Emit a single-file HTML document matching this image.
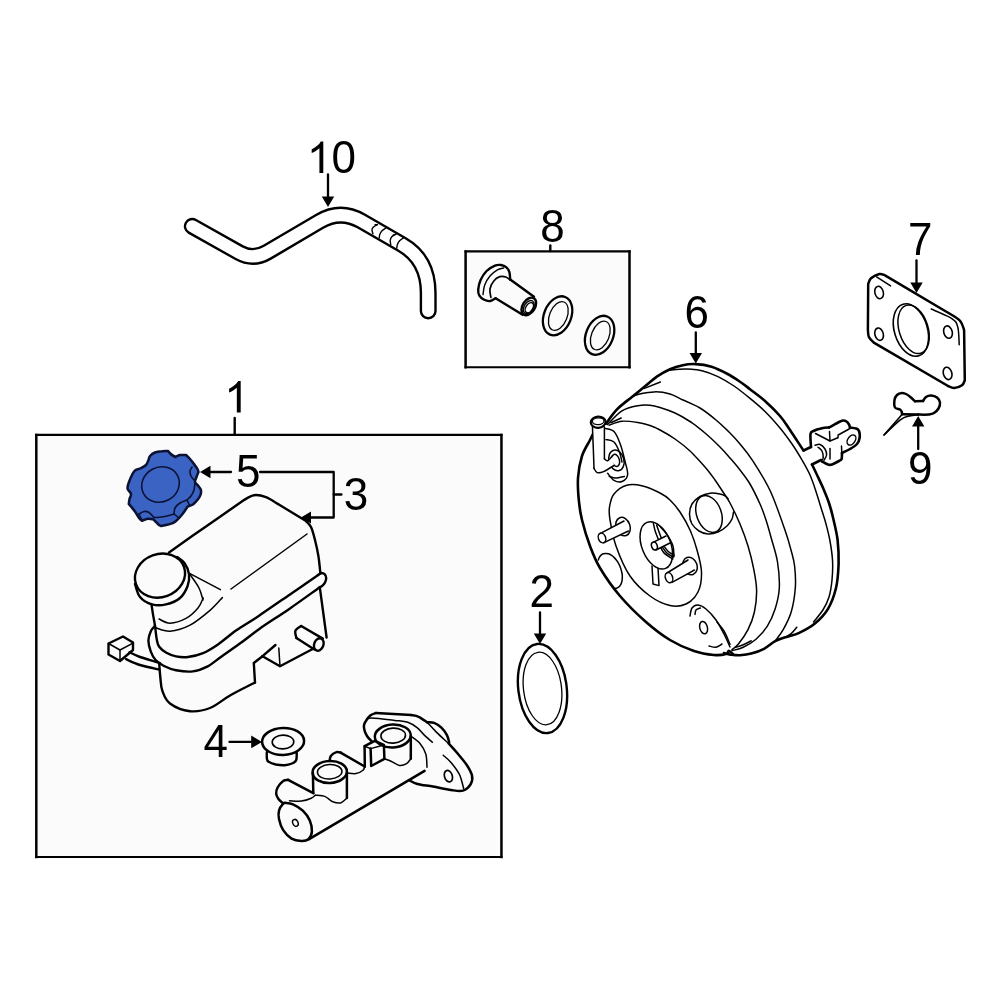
<!DOCTYPE html>
<html><head><meta charset="utf-8"><title>Diagram</title>
<style>html,body{margin:0;padding:0;background:#fff}svg{display:block}text{will-change:transform}</style></head>
<body><svg width="1000" height="1000" viewBox="0 0 1000 1000" style="font-family:'Liberation Sans',sans-serif" stroke-linecap="round" stroke-linejoin="round">
<rect width="1000" height="1000" fill="#fff"/>
<rect x="36.3" y="434.9" width="465.15" height="422.1" fill="#fbfbfb"/>
<path d="M36.3,434.9 V857 M501.45,434.9 V857" stroke="#000" stroke-width="2.5" stroke-linecap="square" fill="none"/>
<path d="M36.3,434.9 H501.45 M36.3,857 H501.45" stroke="#000" stroke-width="2.1" stroke-linecap="square" fill="none"/>
<rect x="465.6" y="251.4" width="163.89999999999998" height="115.79999999999998" fill="#fbfbfb"/>
<path d="M465.6,251.4 V367.2 M629.5,251.4 V367.2" stroke="#000" stroke-width="2.5" stroke-linecap="square" fill="none"/>
<path d="M465.6,251.4 H629.5 M465.6,367.2 H629.5" stroke="#000" stroke-width="2.1" stroke-linecap="square" fill="none"/>
<path transform="translate(306.9,173) scale(0.02148,0.02148)" d="M763 0H583V-1147Q518 -1085 412.5 -1023Q307 -961 223 -930V-1104Q374 -1175 487 -1276Q600 -1377 647 -1472H763Z" fill="#000"/>
<text transform="translate(331.4,173) scale(1,1.035)" font-size="44" text-anchor="start">0</text>
<text transform="translate(540.3,241.8) scale(1,1.035)" font-size="44" text-anchor="start">8</text>
<text transform="translate(684.4,327.6) scale(1,1.035)" font-size="44" text-anchor="start">6</text>
<text transform="translate(908.1,254.5) scale(1,1.035)" font-size="44" text-anchor="start">7</text>
<text transform="translate(908.1,484) scale(1,1.035)" font-size="44" text-anchor="start">9</text>
<path transform="translate(224.3,412.5) scale(0.02148,0.02148)" d="M763 0H583V-1147Q518 -1085 412.5 -1023Q307 -961 223 -930V-1104Q374 -1175 487 -1276Q600 -1377 647 -1472H763Z" fill="#000"/>
<text transform="translate(236.1,486.5) scale(1,1.035)" font-size="44" text-anchor="start">5</text>
<text transform="translate(343.8,510) scale(1,1.035)" font-size="44" text-anchor="start">3</text>
<text transform="translate(203.6,756.5) scale(1,1.035)" font-size="44" text-anchor="start">4</text>
<text transform="translate(529.6,606.5) scale(1,1.035)" font-size="44" text-anchor="start">2</text>
<path d="M234.7,418 L234.7,434" fill="none" stroke="#000" stroke-width="2.4" />
<path d="M550.3,245.5 L550.3,251" fill="none" stroke="#000" stroke-width="2.4" />
<path d="M328,174.5 L328,196.5" fill="none" stroke="#000" stroke-width="2.3" />
<path d="M328,207 L321.8,196.5 L334.2,196.5Z" fill="#000" stroke="none" stroke-width="0" />
<path d="M695.8,332.5 L695.8,353.1" fill="none" stroke="#000" stroke-width="2.3" />
<path d="M695.8,363.6 L689.6,353.1 L702,353.1Z" fill="#000" stroke="none" stroke-width="0" />
<path d="M916.5,260.5 L916.5,282.5" fill="none" stroke="#000" stroke-width="2.3" />
<path d="M916.5,293 L910.3,282.5 L922.7,282.5Z" fill="#000" stroke="none" stroke-width="0" />
<path d="M918.2,449 L918.2,426.5" fill="none" stroke="#000" stroke-width="2.3" />
<path d="M918.2,416 L924.4,426.5 L912,426.5Z" fill="#000" stroke="none" stroke-width="0" />
<path d="M540,612.5 L540,633.5" fill="none" stroke="#000" stroke-width="2.3" />
<path d="M540,644 L533.8,633.5 L546.2,633.5Z" fill="#000" stroke="none" stroke-width="0" />
<path d="M231,472 L210.5,472" fill="none" stroke="#000" stroke-width="2.3" />
<path d="M200,472 L210.5,465.8 L210.5,478.2Z" fill="#000" stroke="none" stroke-width="0" />
<path d="M229.5,741.9 L251.2,741.9" fill="none" stroke="#000" stroke-width="2.3" />
<path d="M262,741.9 L251.2,748.2 L251.2,735.6Z" fill="#000" stroke="none" stroke-width="0" />
<path d="M260,472 L333.7,472 L333.7,517.5 L311,517.5" fill="none" stroke="#000" stroke-width="2.3" />
<path d="M301,517.5 L311,511.5 L311,523.5Z" fill="#000" stroke="none" stroke-width="0" />
<path d="M333.7,494.5 L341.5,494.5" fill="none" stroke="#000" stroke-width="2.3" />
<path d="M192.3,226.3 L239.2,252.7 Q253.2,260.4 267.0,252.3 L319.8,221.2 Q340.5,209.0 361.3,221.0 L402.0,244.5 Q428.2,259.5 428.2,293 L428.2,311.0" fill="none" stroke="#000" stroke-width="17" />
<path d="M192.3,226.3 L239.2,252.7 Q253.2,260.4 267.0,252.3 L319.8,221.2 Q340.5,209.0 361.3,221.0 L402.0,244.5 Q428.2,259.5 428.2,293 L428.2,311.0" fill="none" stroke="#fff" stroke-width="12.2" />
<path d="M377.2,224.6 C376.5,225 374.1,226.3 373.2,227.2 C372.3,228.1 372,228.9 372,230 C372,231.1 372.8,233.2 373,233.8" fill="none" stroke="#000" stroke-width="1.4" />
<path d="M385.6,228.2 C385,228.7 382.7,229.9 381.8,231 C380.8,232 380.3,233.2 379.8,234.4 C379.4,235.6 379.3,237.4 379.2,238" fill="none" stroke="#000" stroke-width="1.4" />
<path d="M395.6,234.2 C395,234.6 392.7,235.8 391.8,236.8 C390.9,237.8 390.4,239.1 390.2,240.4 C390.1,241.7 390.7,243.9 390.8,244.6" fill="none" stroke="#000" stroke-width="1.4" />
<path d="M403.6,237.8 C402.9,238.3 400.6,239.7 399.6,240.8 C398.6,241.9 397.9,243.2 397.4,244.4 C397,245.6 396.9,247.6 396.8,248.2" fill="none" stroke="#000" stroke-width="1.4" />
<path d="M375,224.6 L377.6,224.7" fill="none" stroke="#000" stroke-width="1.3" />
<path d="M393.2,234.8 L396,234.3" fill="none" stroke="#000" stroke-width="1.3" />
<ellipse cx="542.5" cy="688.5" rx="24.2" ry="44.8" transform="rotate(-7 542.5 688.5)" fill="none" stroke="#000" stroke-width="2.4"/>
<ellipse cx="542.5" cy="688.5" rx="19" ry="36.5" transform="rotate(-7 542.5 688.5)" fill="none" stroke="#000" stroke-width="1.3"/>
<ellipse cx="557.6" cy="315.8" rx="13.6" ry="20.3" transform="rotate(22 557.6 315.8)" fill="none" stroke="#000" stroke-width="2.3"/>
<ellipse cx="558.3" cy="316" rx="8.8" ry="15.1" transform="rotate(22 558.3 316)" fill="none" stroke="#000" stroke-width="1.3"/>
<ellipse cx="599.6" cy="335.3" rx="13.6" ry="20.3" transform="rotate(22 599.6 335.3)" fill="none" stroke="#000" stroke-width="2.3"/>
<ellipse cx="600.3" cy="335.5" rx="8.8" ry="15.1" transform="rotate(22 600.3 335.5)" fill="none" stroke="#000" stroke-width="1.3"/>
<path d="M128.8,504 C128.9,503.2 129.1,500.7 129.5,499 C129.9,497.3 131.3,495.8 131,494 C130.7,492.2 127.8,490.5 127.5,488.5 C127.2,486.5 128.2,484.2 129,482 C129.8,479.8 131,476.9 132,475 C133,473.1 133.7,471.6 135,470.5 C136.3,469.4 138.2,469.4 140,468.5 C141.8,467.6 144.6,466.4 146,465 C147.4,463.6 147.8,461.5 148.5,460 C149.2,458.5 148.9,457.2 150,456 C151.1,454.8 153,453.3 155,452.5 C157,451.7 159.8,451.4 162,451.2 C164.2,450.9 167,451 168,451 L168,451 C168.5,451.5 169.8,453.1 171,454 C172.2,454.9 173.5,456.3 175,456.5 C176.5,456.7 178.2,455.2 180,455 C181.8,454.8 185,455 186,455 L186,455 C186.7,455.7 188.7,457.5 190,459 C191.3,460.5 192.8,462.3 194,464 C195.2,465.7 196.8,467.7 197.5,469 C198.2,470.3 198.3,471.5 198.5,472 L198.5,472 C198.2,472.8 197.1,475.3 196.5,477 C195.9,478.7 194.8,480.6 195,482 C195.2,483.4 197,484.2 198,485.5 C199,486.8 200.3,488.2 200.8,489.5 C201.3,490.8 201.2,491.8 201,493 C200.8,494.2 200.2,495.7 199.5,497 C198.8,498.3 197.7,499.7 196.5,501 C195.3,502.3 193.8,504 192.5,504.8 C191.2,505.6 189.8,505.7 189,506 C188.2,506.3 187.8,506.7 187.5,506.8 L187.5,506.8 C186.9,507.7 185.2,510.3 184,512 C182.8,513.7 181.3,515.5 180,517 C178.7,518.5 177.2,520 176,521 C174.8,522 173.5,522.7 173,523 L173,523 C172,523.3 169,524.3 167,524.8 C165,525.3 162,525.8 161,526 L161,526 C160.7,525.8 160,525.8 159,525 C158,524.2 156,522 155,521 C154,520 153.3,519.5 153,519.2 L153,519.2 C152.2,519.1 149.5,518.7 148,518.8 C146.5,518.9 145,519.7 144,520 C143,520.3 142.3,520.7 142,520.8 L142,520.8 C141.5,520.3 140.2,519.5 139,518 C137.8,516.5 136.3,513.4 135,511.5 C133.7,509.6 132,507.8 131,506.5 C130,505.2 129.2,504.4 128.8,504Z" fill="#3b63c4" stroke="#0b1233" stroke-width="2.5" />
<ellipse cx="160.5" cy="484.5" rx="19.2" ry="17.3" transform="rotate(-28 160.5 484.5)" fill="none" stroke="#0b1233" stroke-width="1.6"/>
<path d="M192,467 C191.7,467.7 190.2,469.5 190,471 C189.8,472.5 190.2,474.3 191,476 C191.8,477.7 194.3,480.2 195,481" fill="none" stroke="#0b1233" stroke-width="1.6" />
<path d="M195,482 C194.8,483.3 194.7,487.7 194,490 C193.3,492.3 192.2,494.3 191,496 C189.8,497.7 187.7,499.3 187,500" fill="none" stroke="#0b1233" stroke-width="1.6" />
<path d="M187,500 C185.8,500.5 182,501.7 180,503 C178,504.3 176,506.2 175,508 C174,509.8 174.2,513 174,514" fill="none" stroke="#0b1233" stroke-width="1.6" />
<path d="M187,500 L189.5,505.2" fill="none" stroke="#0b1233" stroke-width="1.6" />
<path d="M174,514 L179,518" fill="none" stroke="#0b1233" stroke-width="1.6" />
<path d="M174,514 C172.2,514.5 166.3,516.2 163,516.8 C159.7,517.4 155.5,517.4 154,517.5" fill="none" stroke="#0b1233" stroke-width="1.6" />
<path d="M154,517.5 C153.2,516.7 150.7,513.5 149,512.5 C147.3,511.5 145.7,511.2 144,511.5 C142.3,511.8 139.8,513.6 139,514" fill="none" stroke="#0b1233" stroke-width="1.6" />
<path d="M139,514 L142,520" fill="none" stroke="#0b1233" stroke-width="1.4" />
<path d="M168,451.5 L171,455 L176,458" fill="none" stroke="#0b1233" stroke-width="1.4" />
<path d="M169,552.4 C175.2,548.1 193.5,535.1 206,526.4 C218.5,517.7 237.7,504.4 244,500" fill="none" stroke="#000" stroke-width="2.4" />
<path d="M244,500 C245.7,499.2 250.3,495.7 254,495.2 C257.7,494.7 262,495.7 266,497.2 C270,498.7 276,502.9 278,504" fill="none" stroke="#000" stroke-width="2.4" />
<path d="M278,504 L306,521" fill="none" stroke="#000" stroke-width="2.4" />
<path d="M306,521 C306.8,522 309.5,523.8 311,527 C312.5,530.2 313.8,535.2 315,540 C316.2,544.8 317.5,550.4 318.4,556 C319.3,561.6 320.1,570.7 320.4,573.6" fill="none" stroke="#000" stroke-width="2.4" />
<path d="M318,575 C318.6,574.7 320.4,573.1 321.5,573 C322.6,572.9 323.8,573.4 324.6,574.2 C325.4,575 326.1,576.6 326.2,578 C326.3,579.4 325.6,581.2 325,582.5 C324.4,583.8 323.4,584.8 322.5,585.6 C321.6,586.4 320.2,586.9 319.8,587.2" fill="none" stroke="#000" stroke-width="2.4" />
<path d="M318.2,575 C313.5,578.2 300,587.5 290,594.4 C280,601.3 267,610.4 258,616.4 C249,622.4 242.7,625.9 236,630.6 C229.3,635.3 223.6,640.6 218,644.4 C212.4,648.2 207.4,651.3 202.4,653.4 C197.4,655.5 192.4,656.5 188,657 C183.6,657.5 179.6,657.1 176,656.4 C172.4,655.7 169.2,654.4 166.4,652.8 C163.6,651.2 160.8,649 159.2,646.8 C157.6,644.6 157.5,643.1 156.8,639.6 C156.1,636.1 155.6,629.8 155,625.8 C154.4,621.8 153.8,619.1 153.2,615.6 C152.6,612.1 151.8,606.4 151.5,604.6" fill="none" stroke="#000" stroke-width="2.4" />
<path d="M319.8,587.2 C314.8,590.7 300,601.5 290,608.4 C280,615.3 268,622.8 260,628.4 C252,634 248.4,637.3 242,642 C235.6,646.7 227.4,652.3 221.6,656.4 C215.8,660.5 212,664.1 207.2,666.6 C202.4,669.1 198,670.8 192.8,671.4 C187.6,672 180.8,671.1 176,670.2 C171.2,669.3 167.4,667.7 164,666 C160.6,664.3 157.8,662.4 155.6,660 C153.4,657.6 152,654.8 150.8,651.6 C149.6,648.4 148.4,644.2 148.4,640.8 C148.4,637.4 149.7,633.7 150.8,631.2 C151.9,628.7 154.3,626.7 155,625.8" fill="none" stroke="#000" stroke-width="2.4" />
<path d="M319.8,587.3 L326.6,637.5" fill="none" stroke="#000" stroke-width="2.4" />
<path d="M307,534 L231,589" fill="none" stroke="#000" stroke-width="1.5" />
<path d="M190,573.6 L220.4,589.6" fill="none" stroke="#000" stroke-width="1.5" />
<ellipse cx="160" cy="575.6" rx="25.5" ry="21.5" transform="rotate(-20 160 575.6)" fill="#fbfbfb" stroke="#000" stroke-width="2.4"/>
<path d="M135,584 C135.8,586.2 137.2,593.6 140,597 C142.8,600.4 147.7,603.2 152,604.4 C156.3,605.6 161.3,605.5 166,604.4 C170.7,603.3 176.4,601.1 180,598 C183.6,594.9 186.1,590 187.6,586 C189.1,582 189.5,577.8 189,574 C188.5,570.2 186.4,565.8 184.4,563 C182.4,560.2 178.2,558 177,557" fill="none" stroke="#000" stroke-width="2.4" />
<path d="M189.6,574 C191.2,576.3 196.8,583.7 199,588 C201.2,592.3 202.3,598 203,600" fill="none" stroke="#000" stroke-width="1.5" />
<path d="M159,619 C160.8,619.7 165.5,623.3 170,623.2 C174.5,623.1 181.3,620.9 186,618.4 C190.7,615.9 195.1,611.4 198,608 C200.9,604.6 202.3,599.7 203.2,598" fill="none" stroke="#000" stroke-width="1.5" />
<path d="M155,627.6 C157.5,628.2 164.2,631.6 170,631.2 C175.8,630.8 183.3,628.7 190,625.2 C196.7,621.7 204.6,615 210,610.4 C215.4,605.8 220.3,599.7 222.4,597.6" fill="none" stroke="#000" stroke-width="1.5" />
<path d="M159.2,663.6 C159.4,666 159.9,673.4 160.4,678 C160.9,682.6 160.8,686.8 162.4,691 C164,695.2 165.4,700.1 170,703.5 C174.6,706.9 183.3,710.5 190,711.2 C196.7,712 203.3,710.6 210,708 C216.7,705.4 222.5,699.8 230,695.5 C237.5,691.2 250.8,684.7 255,682.5" fill="none" stroke="#000" stroke-width="2.4" />
<path d="M255,682.5 L253.8,663 L262.5,656.2" fill="none" stroke="#000" stroke-width="2.4" />
<path d="M262.5,656.2 L280,666.2 L321.2,644.5" fill="none" stroke="#000" stroke-width="2.4" />
<path d="M280,666.2 L278.8,648" fill="none" stroke="#000" stroke-width="1.5" />
<path d="M262.5,656.2 L275.5,645" fill="none" stroke="#000" stroke-width="2.4" />
<path d="M301.2,626 L322.8,638.6 L314.4,649.4 L296.4,638Z" fill="#fbfbfb" stroke="none" stroke-width="0" />
<path d="M301.2,626 L322.8,638.6" fill="none" stroke="#000" stroke-width="2.4" />
<path d="M296.4,638 L314.4,649.4" fill="none" stroke="#000" stroke-width="2.4" />
<path d="M301.2,626 C300.2,626.8 296.2,628.8 295.4,630.8 C294.6,632.8 296.2,636.8 296.4,638" fill="none" stroke="#000" stroke-width="2.4" />
<ellipse cx="318.8" cy="644.5" rx="4.6" ry="6.4" transform="rotate(22 318.8 644.5)" fill="#fbfbfb" stroke="#000" stroke-width="2.4"/>
<path d="M108.5,643.5 L123,636.5 L133,642.5 L133,650 L120,661 L108.5,654.5Z" fill="none" stroke="#000" stroke-width="2.4" />
<path d="M108.5,643.5 L120,650 L133,643.2" fill="none" stroke="#000" stroke-width="1.5" />
<path d="M120,650 L120,661" fill="none" stroke="#000" stroke-width="1.5" />
<path d="M129.5,652.2 C131.2,653 135.8,655.5 140,657 C144.2,658.5 151.7,660.5 155,661.5 C158.3,662.5 159.2,662.9 160,663.2" fill="none" stroke="#000" stroke-width="2.4" />
<path d="M126,659.2 C128.3,660.2 134.5,663.3 140,665 C145.5,666.7 155.8,668.8 159,669.5" fill="none" stroke="#000" stroke-width="2.4" />
<path d="M266.8,752.2 C266.8,753.3 266.6,757 266.9,758.6 C267.2,760.2 267.1,760.9 268.6,761.8 C270.1,762.8 273.1,763.9 275.8,764.5 C278.5,765 282.1,765.4 284.8,765.2 C287.5,765 290.2,764.2 292,763.5 C293.8,762.8 294.8,762 295.6,761.1 C296.4,760.2 296.4,759.4 296.6,758 C296.7,756.6 296.7,753.5 296.7,752.6" fill="none" stroke="#000" stroke-width="2.4" />
<ellipse cx="283.1" cy="741.4" rx="21" ry="13.5" transform="rotate(-2 283.1 741.4)" fill="#fbfbfb" stroke="#000" stroke-width="2.5"/>
<ellipse cx="283" cy="742" rx="10.8" ry="6.9" transform="rotate(-2 283 742)" fill="none" stroke="#000" stroke-width="1.6"/>
<path d="M283.2,803.6 C282,804.9 279.7,808 279,810.6 C278.3,813.2 278.3,815.7 279,819 C279.7,822.3 281.1,826.9 283.2,830.2 C285.3,833.5 288.6,836.8 291.6,838.6 C294.6,840.4 298.6,840.9 301.4,841 C304.2,841.1 306.6,840.9 308.4,839.3 C310.1,837.7 311.7,834.8 311.9,831.6 C312.1,828.5 311.3,823.9 309.8,820.4 C308.3,816.9 305.6,813.3 302.8,810.6 C300,807.9 295.8,805.6 293,804.3 C290.2,803 287.6,803 286,802.9 C284.4,802.8 284.4,802.3 283.2,803.6Z" fill="none" stroke="#000" stroke-width="2.5" />
<ellipse cx="295.4" cy="822.9" rx="2.6" ry="3.6" transform="rotate(-25 295.4 822.9)" fill="none" stroke="#000" stroke-width="1.5"/>
<path d="M308.7,839.3 L424.6,770.8" fill="none" stroke="#000" stroke-width="2.5" />
<path d="M283.2,803.6 C282.4,802.8 279.5,800.3 278.3,798.7 C277.1,797.1 276.3,795.7 276.2,793.8 C276.1,791.9 276.4,789.6 277.6,787.5 C278.8,785.4 281.4,782.2 283.2,780.9 C284.9,779.6 287.3,780 288.1,779.8" fill="none" stroke="#000" stroke-width="2.5" />
<path d="M288.1,779.8 L313.3,793.1" fill="none" stroke="#000" stroke-width="2.5" />
<path d="M289.5,800.8 C291.5,800.8 297.8,801.5 301.4,801.1 C305,800.7 308.9,799.3 311.2,798.3 C313.5,797.3 314.7,795.7 315.4,795.2" fill="none" stroke="#000" stroke-width="1.5" />
<ellipse cx="329.7" cy="772" rx="17.2" ry="11" transform="rotate(-3 329.7 772)" fill="none" stroke="#000" stroke-width="2.5"/>
<ellipse cx="329.7" cy="771.8" rx="12.3" ry="7.2" transform="rotate(-3 329.7 771.8)" fill="none" stroke="#000" stroke-width="1.5"/>
<path d="M312.9,772.8 L313.3,793.1" fill="none" stroke="#000" stroke-width="2.5" />
<path d="M346.9,772.8 L346.9,798" fill="none" stroke="#000" stroke-width="2.5" />
<path d="M315.4,795.2 C317,795.4 322.4,795.6 325.2,796.6 C328,797.6 329.6,800.5 332.2,801.5 C334.8,802.5 338.2,803.5 340.6,802.9 C343.1,802.3 345.8,798.8 346.9,798" fill="none" stroke="#000" stroke-width="1.5" />
<path d="M329.7,760.9 C329.9,760.1 329.7,757.5 330.8,756 C331.9,754.5 334.8,752.6 336.4,752.1 C338,751.5 339.9,752.5 340.6,752.6" fill="none" stroke="#000" stroke-width="2.5" />
<path d="M340.6,752.6 L364.7,766.5" fill="none" stroke="#000" stroke-width="2.5" />
<path d="M347.6,773.1 C349,773.2 353.4,774.1 356,773.6 C358.6,773.2 361.6,771.5 363,770.3 C364.4,769.1 364.4,767.1 364.7,766.5" fill="none" stroke="#000" stroke-width="1.5" />
<path d="M364.6,746.2 L374.8,740.8 L383.8,745" fill="none" stroke="#000" stroke-width="2.5" />
<path d="M364.6,746.2 L370.6,748.6 L383.8,745" fill="none" stroke="#000" stroke-width="1.5" />
<path d="M370.6,748.6 L371.2,766 L384.4,758.8" fill="none" stroke="#000" stroke-width="2.5" />
<path d="M364.6,746.2 L364.8,766.7" fill="none" stroke="#000" stroke-width="2.5" />
<ellipse cx="392.8" cy="736" rx="18" ry="11.4" transform="rotate(-3 392.8 736)" fill="none" stroke="#000" stroke-width="2.5"/>
<ellipse cx="393.2" cy="735.6" rx="12.3" ry="7.5" transform="rotate(-3 393.2 735.6)" fill="none" stroke="#000" stroke-width="1.6"/>
<path d="M410.8,736 L410.8,758.8" fill="none" stroke="#000" stroke-width="2.5" />
<path d="M383.9,745.2 L384.4,758.8" fill="none" stroke="#000" stroke-width="2.5" />
<path d="M384.4,758.8 C385.5,759.2 388.5,760.1 391,761.2 C393.5,762.3 396.8,765 399.4,765.4 C402,765.8 404.7,764.7 406.6,763.6 C408.5,762.5 410.1,759.6 410.8,758.8" fill="none" stroke="#000" stroke-width="1.5" />
<path d="M371.8,741.4 C371,740.5 368.2,737.9 367,736 C365.8,734.1 364.8,731.9 364.4,730 C363.9,728.1 363.7,726.4 364.1,724.6 C364.6,722.8 365.9,720.8 367,719.2 C368.1,717.6 369.1,716.3 370.6,715.2 C372.1,714.2 375.1,713.3 376,713" fill="none" stroke="#000" stroke-width="2.5" />
<path d="M376,713 L411.4,715.1" fill="none" stroke="#000" stroke-width="2.5" />
<path d="M411.4,715.1 C412.6,715.4 416,715.6 418.6,716.8 C421.2,718 425.6,721.3 427,722.2" fill="none" stroke="#000" stroke-width="2.5" />
<path d="M427,722.2 C428.2,722.3 431.8,721.9 434.2,722.8 C436.6,723.7 439.3,725.6 441.4,727.6 C443.5,729.6 445.5,732.4 446.8,734.8 C448.1,737.2 448.8,741 449.2,742.2" fill="none" stroke="#000" stroke-width="2.5" />
<path d="M448.6,743.4 C450,745 454,749.2 457,752.8 C460,756.4 464.1,761 466.6,764.8 C469.1,768.6 471.3,772.4 472,775.6 C472.7,778.8 472.3,781.5 470.8,784 C469.3,786.5 466.3,789.6 463,790.6 C459.7,791.6 456,790.7 451,790 C446,789.3 438.6,787.6 433,786.6 C427.4,785.6 421.4,785.1 417.4,784 C413.4,782.9 410.4,780.8 409,780.2" fill="none" stroke="#000" stroke-width="2.5" />
<path d="M367,719.2 C367.8,719 367.2,717.8 371.8,718 C376.4,718.2 388.6,719.7 394.6,720.4 C400.6,721.1 404,721.1 407.8,722.3 C411.6,723.6 414.6,725.7 417.4,727.8 C420.2,730 422.1,733 424.6,735.4 C427.1,737.8 431.1,741.1 432.4,742.2" fill="none" stroke="#000" stroke-width="1.5" />
<path d="M427.6,722.8 C429.1,724.4 433.2,729 436.6,732.4 C440,735.8 446.1,741.2 448,743" fill="none" stroke="#000" stroke-width="1.5" />
<path d="M410.8,736 C412.3,737.2 417.3,740.2 419.8,743.2 C422.3,746.2 424.6,750 425.8,754 C427,758 426.8,765 427,767.2" fill="none" stroke="#000" stroke-width="1.5" />
<path d="M443.2,755.2 C444.5,756.4 448.3,759.2 451,762.4 C453.7,765.6 457.3,770.1 459.4,774.4 C461.5,778.7 462.9,785.9 463.6,788.2" fill="none" stroke="#000" stroke-width="1.5" />
<ellipse cx="448.4" cy="776.2" rx="3.9" ry="5.9" transform="rotate(-18 448.4 776.2)" fill="none" stroke="#000" stroke-width="1.7"/>
<path d="M606,423.6 C607.9,421.2 612.9,413.6 617.2,409.2 C621.5,404.8 627.1,400.9 631.6,397.2 C636.1,393.5 640.1,390.3 644.4,386.8 C648.7,383.3 652.9,379.3 657.2,376.4 C661.5,373.5 665.7,371.1 670,369.2 C674.3,367.3 678.5,366.1 682.8,365.2 C687.1,364.3 690.8,363.8 695.6,364.1 C700.4,364.3 706.3,365.1 711.6,366.8 C716.9,368.5 722.8,371.5 727.6,374 C732.4,376.5 736.7,379.5 740.4,382 C744.1,384.5 745.9,386 750,389.2 C754.1,392.4 760,396.5 765,401 C770,405.5 775.8,411.2 780,416 C784.2,420.8 786.1,424.2 790,430 C793.9,435.8 801.2,447.1 803.5,450.5" fill="none" stroke="#000" stroke-width="2.6" />
<path d="M812,464.5 C812.9,466.4 815.6,471.9 817.5,476 C819.4,480.1 821.6,484.5 823.5,489 C825.4,493.5 827.4,498.2 829,503 C830.6,507.8 831.6,511.3 833,517.5 C834.4,523.7 836.7,532.2 837.6,540 C838.5,547.8 838.8,556 838.6,564 C838.3,572 837.8,580.5 836,588 C834.2,595.5 831.5,602.9 828,608.8 C824.5,614.7 820,619.2 815.2,623.2 C810.4,627.2 804,630.5 799.2,632.8 C794.4,635.1 790.4,635.6 786.4,637 C782.4,638.3 778.9,639.1 775.2,641.1 C771.5,643.1 768,646.7 764,648.8 C760,650.9 755.2,652.5 751.2,653.6 C747.2,654.7 743.5,655 740,655.2 C736.5,655.4 733.1,654.9 730.4,654.6 C727.7,654.2 725.1,653.2 724,653" fill="none" stroke="#000" stroke-width="2.6" />
<path d="M594.4,431 C593.7,432.5 592.1,435.8 590,440 C587.9,444.2 584,449.7 582,456 C580,462.3 578.5,470.3 578,478 C577.5,485.7 578.3,495 579,502 C579.7,509 580.2,512.7 582,520 C583.8,527.3 587,538 590,546 C593,554 595,559.7 600,568 C605,576.3 612.3,587 620,596 C627.7,605 637.7,614.7 646,622 C654.3,629.3 662,635.2 670,640 C678,644.8 686.7,648.5 694,651 C701.3,653.5 708.7,654.5 714,655 C719.3,655.5 723.5,654.7 726,654 C728.5,653.3 727.7,650.9 728.8,650.9 C729.9,650.9 732.1,653.4 732.8,653.9" fill="none" stroke="#000" stroke-width="2.6" />
<path d="M668,370.2 C671,370 680.3,368.9 686,369 C691.7,369.1 696.7,369.4 702,370.7 C707.3,372 712.7,374.1 718,376.6 C723.3,379.2 728.7,382.4 734,386 C739.3,389.6 744.8,394.1 750,398.4 C755.2,402.6 760,406.6 765,411.5 C770,416.4 775.5,422.6 780,428 C784.5,433.4 788.3,438.7 792,444 C795.7,449.3 799,454.8 802,460 C805,465.2 807.8,470 810,475 C812.2,480 813.8,484.8 815.5,490 C817.2,495.2 818.8,500.3 820.5,506 C822.2,511.7 824.5,518.3 826,524 C827.5,529.7 828.7,534 829.8,540 C830.9,546 832.1,553.3 832.5,560 C832.9,566.7 832.6,573.8 832,580 C831.4,586.2 830.5,592.1 829,597 C827.5,601.9 825.8,605.3 823.2,609.5 C820.6,613.7 815.2,619.9 813.6,622" fill="none" stroke="#000" stroke-width="1.5" />
<path d="M644.4,388.4 L660.4,382" fill="none" stroke="#000" stroke-width="1.5" />
<path d="M610.8,422.8 L621.2,418" fill="none" stroke="#000" stroke-width="1.5" />
<path d="M606,423.6 C608.1,420.9 614,412.3 618.8,407.6 C623.6,402.9 628.9,398.2 634.8,395.6 C640.7,393 648.1,392.2 654,391.9 C659.9,391.6 665.2,392.6 670,394 C674.8,395.4 678,397.7 683,400 C688,402.3 694.5,404.7 700,408 C705.5,411.3 711,415.8 716,420 C721,424.2 726,429 730,433 C734,437 736.2,439.4 740,444 C743.8,448.6 747.7,452.9 752.8,460.8 C757.9,468.7 765.1,479.7 770.4,491.2 C775.7,502.7 781.4,519.8 784.8,529.6 C788.2,539.4 789.4,543.9 791,550 C792.6,556.1 793.9,559.7 794.6,566 C795.3,572.3 795.9,580.3 795.3,588 C794.7,595.7 793.2,605.1 791.2,612 C789.2,618.9 785.9,624.8 783.2,629.6 C780.5,634.4 776.5,639.1 775.2,641" fill="none" stroke="#000" stroke-width="1.5" />
<path d="M796.8,627.2 C795.9,628.3 793.2,631.9 791.2,633.6 C789.2,635.3 785.9,636.9 784.8,637.6" fill="none" stroke="#000" stroke-width="1.5" />
<path d="M607.6,424.4 C610,422.1 616.9,413.9 622,410.8 C627.1,407.7 633.3,406.6 638,405.7 C642.7,404.8 646.3,405 650,405.3 C653.7,405.6 655.8,406.2 660,407.5 C664.2,408.8 670,410.7 675,413 C680,415.3 685,418.2 690,421.5 C695,424.8 700,428.8 705,433 C710,437.2 715.8,442.8 720,447 C724.2,451.2 726.7,454.2 730,458 C733.3,461.8 736.7,465.7 740,470 C743.3,474.3 746.7,478.3 750,484 C753.3,489.7 757.3,498 760,504 C762.7,510 764.1,514.2 766,520 C767.9,525.8 769.6,532 771.5,539 C773.4,546 776.2,553.8 777.5,562 C778.8,570.2 779.7,580.2 779.3,588 C778.9,595.8 777.2,602.4 775.2,608.8 C773.2,615.2 770.4,621.3 767.2,626.4 C764,631.5 760,635.7 756,639.2 C752,642.7 747.2,645.3 743.2,647.2 C739.2,649.1 733.9,650.1 732,650.7" fill="none" stroke="#000" stroke-width="1.5" />
<path d="M609.2,425.2 C611.3,424.5 617.2,421.6 622,421.2 C626.8,420.8 633.3,421.8 638,422.5 C642.7,423.2 646.3,424.2 650,425.5 C653.7,426.8 655.8,427.8 660,430 C664.2,432.2 670,435.5 675,439 C680,442.5 685,446.3 690,451 C695,455.7 700.8,462.2 705,467 C709.2,471.8 712,475.8 715,480 C718,484.2 720.5,488.2 723,492 C725.5,495.8 727.2,497.7 730,503 C732.8,508.3 737,516.8 740,524 C743,531.2 745.8,538.7 748,546 C750.2,553.3 752.1,560.7 753.5,568 C754.9,575.3 756.5,582.7 756.6,590 C756.8,597.3 755.8,605.4 754.4,612 C753,618.6 750.7,624.3 748,629.6 C745.3,634.9 741.1,640.7 738.4,644 C735.7,647.3 733.1,648.7 732,649.6" fill="none" stroke="#000" stroke-width="1.5" />
<path d="M751.2,640.8 C749.9,641.5 745.9,643.7 743.2,644.8 C740.5,645.9 736.5,647.1 735.2,647.5" fill="none" stroke="#000" stroke-width="1.5" />
<path d="M660,493 C664.5,495.3 666.7,496.8 670,500 C673.3,503.2 676.7,507 680,512 C683.3,517 687.2,523.7 690,530 C692.8,536.3 695.1,543 697,550 C698.9,557 701.3,565 701.5,572 C701.7,579 700.6,586.7 698,592 C695.4,597.3 690.7,601.8 686,604 C681.3,606.2 676,606.8 670,605.5 C664,604.2 656.7,600.9 650,596 C643.3,591.1 635.7,584.3 630,576 C624.3,567.7 619.3,555.3 616,546 C612.7,536.7 611.1,526.5 610,520 C608.9,513.5 608.8,511.3 609.5,507 C610.2,502.7 611.1,497.6 614,494 C616.9,490.4 622,486.5 626.8,485.2 C631.6,483.9 637.3,484.7 642.8,486 C648.3,487.3 655.5,490.7 660,493Z" fill="none" stroke="#000" stroke-width="1.5" />
<ellipse cx="656.3" cy="545.4" rx="14.4" ry="24.8" transform="rotate(-22 656.3 545.4)" fill="none" stroke="#000" stroke-width="1.5"/>
<path d="M653.4,523.4 C653.7,524.8 654.5,529.1 655.4,531.8 C656.3,534.5 658.1,538.5 658.6,539.8" fill="none" stroke="#000" stroke-width="1.5" />
<path d="M656.7,525.2 C657.2,526.6 658.7,531 659.6,533.6 C660.5,536.2 661.8,539.4 662.2,540.6" fill="none" stroke="#000" stroke-width="1.5" />
<path d="M660.2,526.6 C661.3,527.9 664.7,531 666.8,534.2 C668.9,537.4 671.6,541.9 672.8,545.6 C674,549.3 673.8,554.6 674,556.4" fill="none" stroke="#000" stroke-width="1.5" />
<path d="M660.8,547.8 C661.4,548.7 662.4,551.5 664.4,553.4 C666.4,555.3 671.4,558.1 672.8,559" fill="none" stroke="#000" stroke-width="1.5" />
<path d="M664.6,547 C665.3,547.8 667,550.5 668.6,551.8 C670.2,553.2 673.1,554.4 674,555" fill="none" stroke="#000" stroke-width="1.5" />
<path d="M662.7,547.5 C663.4,548.4 665,551.4 666.8,553 C668.6,554.6 672.4,556.4 673.5,557.1" fill="none" stroke="#000" stroke-width="1.5" />
<ellipse cx="623" cy="526.6" rx="7" ry="9.5" transform="rotate(-20 623 526.6)" fill="none" stroke="#000" stroke-width="1.5"/>
<path d="M600,533.6 L624,521 L628.4,531 L604,542.6Z" fill="#fff" stroke="none" stroke-width="0" />
<path d="M600,533.6 L624,521" fill="none" stroke="#000" stroke-width="1.5" />
<path d="M604,542.6 L628.4,531" fill="none" stroke="#000" stroke-width="1.5" />
<ellipse cx="602" cy="538" rx="3.6" ry="5" transform="rotate(-20 602 538)" fill="#fff" stroke="#000" stroke-width="1.5"/>
<ellipse cx="690" cy="566" rx="7" ry="9" transform="rotate(-20 690 566)" fill="none" stroke="#000" stroke-width="1.5"/>
<path d="M667,573 L688,560 L694.4,570 L672,582.4Z" fill="#fff" stroke="none" stroke-width="0" />
<path d="M667,573 L688,560" fill="none" stroke="#000" stroke-width="1.5" />
<path d="M672,582.4 L694.4,570" fill="none" stroke="#000" stroke-width="1.5" />
<ellipse cx="669" cy="577.6" rx="3.6" ry="5.2" transform="rotate(-20 669 577.6)" fill="#fff" stroke="#000" stroke-width="1.5"/>
<path d="M653,542.4 L666,536 L670,543 L656,550Z" fill="#fff" stroke="none" stroke-width="0" />
<path d="M653,542.4 L666,536" fill="none" stroke="#000" stroke-width="1.5" />
<path d="M656,550 L670,543" fill="none" stroke="#000" stroke-width="1.5" />
<ellipse cx="654.4" cy="546" rx="2.8" ry="4" transform="rotate(-20 654.4 546)" fill="#fff" stroke="#000" stroke-width="1.5"/>
<path d="M652,566 L653,584 L659,585.6 L658,568" fill="none" stroke="#000" stroke-width="1.5" />
<path d="M598.3,560 C598.5,559.5 598.9,558 599.4,557.2 C599.9,556.4 600.5,555.7 601.1,555.1 C601.7,554.5 602.4,554.1 603.2,553.8 C604,553.5 604.8,553.4 605.7,553.4 C606.6,553.4 607.6,553.5 608.5,553.8 C609.4,554.1 610.3,554.6 611.2,555.2 C612.1,555.8 613.1,556.5 614,557.4 C614.9,558.2 615.7,559.2 616.5,560.3 C617.3,561.3 618.1,562.5 618.7,563.7 C619.4,564.9 619.9,566.2 620.4,567.5 C620.9,568.8 621.3,570.2 621.6,571.5 C621.9,572.8 622.2,574.1 622.3,575.4 C622.4,576.7 622.3,577.9 622.2,579.1 C622.1,580.3 621.9,581.5 621.6,582.5 C621.3,583.5 620.9,584.4 620.4,585.2 C619.9,586 619.3,586.7 618.6,587.2 C617.9,587.7 617.2,588.1 616.4,588.3 C615.6,588.5 614.3,588.5 613.9,588.6" fill="none" stroke="#000" stroke-width="1.5" />
<path d="M728,498.8 C727.6,498.4 726.8,497 725.5,496.2 C724.2,495.4 722.6,494.5 720,494 C717.4,493.5 713.3,492.8 710,493.2 C706.7,493.6 703,494.7 700,496.5 C697,498.3 693.8,501.1 692,504 C690.2,506.9 689.5,510.7 689.5,514 C689.5,517.3 690.4,521.2 692,524 C693.6,526.8 696.3,529.3 699,531 C701.7,532.7 704.8,533.8 708,534 C711.2,534.2 714.8,533.3 718,532 C721.2,530.7 724.7,528.2 727,526 C729.3,523.8 730.9,521.3 732,519 C733.1,516.7 733.2,513.2 733.5,512" fill="none" stroke="#000" stroke-width="1.5" />
<ellipse cx="709" cy="514" rx="12.3" ry="19.2" transform="rotate(-20 709 514)" fill="none" stroke="#000" stroke-width="1.5"/>
<path d="M690,616 C690.3,614.7 690.7,609.8 692,608 C693.3,606.2 695.7,604.8 698,605 C700.3,605.2 703,606.5 706,609 C709,611.5 713,615.8 716,620 C719,624.2 721.7,629.5 724,634 C726.3,638.5 729,644.8 730,647" fill="none" stroke="#000" stroke-width="1.5" />
<path d="M695,614.4 C695.2,613.7 695.1,611.1 696,610 C696.9,608.9 699.7,608.3 700.4,608" fill="none" stroke="#000" stroke-width="1.5" />
<ellipse cx="703.6" cy="627.6" rx="3.8" ry="6.3" transform="rotate(-15 703.6 627.6)" fill="none" stroke="#000" stroke-width="1.5"/>
<path d="M709,646 C710.2,646.2 713.8,647.5 716,647.2 C718.2,646.9 721,644.5 722,644" fill="none" stroke="#000" stroke-width="1.5" />
<path d="M717,622 C718.2,623.5 721.8,627.3 724,631 C726.2,634.7 729,642.2 730,644.4" fill="none" stroke="#000" stroke-width="1.5" />
<path d="M605.2,428.4 C606.7,428.9 611.5,428.9 614,431.6 C616.5,434.3 618.5,439.3 620.4,444.4 C622.3,449.5 624,456.9 625.2,462 C626.4,467.1 628.1,471.5 627.6,474.8 C627.1,478.1 624.3,480.6 622,481.5 C619.7,482.5 616.4,481.8 614,480.4 C611.6,479 608.7,474.4 607.6,473.2" fill="none" stroke="#000" stroke-width="1.5" />
<path d="M606,439.6 C607.3,440 611.7,439.9 614,442 C616.3,444.1 618.3,449.1 619.6,452.4 C620.9,455.7 621.6,460.4 622,462" fill="none" stroke="#000" stroke-width="1.5" />
<path d="M609.2,476.4 C610.3,476.7 613.1,478 615.6,478 C618.1,478 622.9,476.7 624.4,476.4" fill="none" stroke="#000" stroke-width="1.5" />
<ellipse cx="616.4" cy="460.4" rx="7.5" ry="10.5" transform="rotate(-15 616.4 460.4)" fill="none" stroke="#000" stroke-width="1.5"/>
<ellipse cx="615.6" cy="460.4" rx="3.8" ry="6.2" transform="rotate(-15 615.6 460.4)" fill="none" stroke="#000" stroke-width="1.5"/>
<path d="M592.4,425.2 L594,468.4 L597.2,472.4 L602.8,471.6 L614,465.5 L612.4,455.6 L607.6,460.4 L604.4,458.8 L604.4,426.8Z" fill="#fff" stroke="none" stroke-width="0" />
<path d="M592.4,425.2 C592.5,428.7 592.9,438.8 593.2,446 C593.5,453.2 593.9,464.7 594,468.4" fill="none" stroke="#000" stroke-width="1.5" />
<path d="M594,468.4 C594.5,469.1 595.6,472 597.2,472.6 C598.8,473.1 600.8,472.8 603.6,471.6 C606.4,470.4 612.3,466.5 614,465.5" fill="none" stroke="#000" stroke-width="1.5" />
<path d="M604.4,427.1 L604.4,458.8" fill="none" stroke="#000" stroke-width="1.5" />
<path d="M604.4,458.8 C604.9,459.1 606.3,461.2 607.6,460.7 C608.9,460.2 611.6,456.7 612.4,455.9" fill="none" stroke="#000" stroke-width="1.5" />
<ellipse cx="598.2" cy="422.2" rx="7.4" ry="5.6" transform="rotate(-3 598.2 422.2)" fill="#fff" stroke="#000" stroke-width="2.2"/>
<ellipse cx="598.2" cy="421.3" rx="5.8" ry="3.3" transform="rotate(-3 598.2 421.3)" fill="none" stroke="#000" stroke-width="1.2"/>
<path d="M803.5,450.5 L811,447" fill="none" stroke="#000" stroke-width="2.6" />
<path d="M812,464.5 L821,460" fill="none" stroke="#000" stroke-width="2.6" />
<path d="M811,447 C810.9,444.8 810.1,436.7 810.5,434 C810.9,431.3 811.6,432 813.5,431 C815.4,430 819.4,428.8 822,428.2 C824.6,427.6 827.8,427.6 829,427.5" fill="none" stroke="#000" stroke-width="2.6" />
<path d="M829,427.5 C830.7,426.6 836.7,423.2 839,422 C841.3,420.8 841.8,420.6 843,420.5 C844.2,420.4 845.5,420.8 846.5,421.5 C847.5,422.2 848.4,423.5 849,424.5 C849.6,425.5 849.8,427 850,427.5" fill="none" stroke="#000" stroke-width="2.6" />
<path d="M850,427.5 C851,427.7 854.5,427.9 856,428.5 C857.5,429.1 858.4,429.4 859,431 C859.6,432.6 859.9,435.8 859.6,438 C859.3,440.2 858.6,442.2 857,444 C855.4,445.8 852.5,447.5 850,449 C847.5,450.5 843.3,452.3 842,453" fill="none" stroke="#000" stroke-width="2.6" />
<path d="M842,453 C841.9,454 842.1,457.7 841.6,459 C841.1,460.3 840.6,460.1 839,461 C837.4,461.9 833.8,463.9 832,464.5 C830.2,465.1 829.7,465.1 828,464.6 C826.3,464.1 823,462 822,461.5" fill="none" stroke="#000" stroke-width="2.6" />
<path d="M815.5,433.5 L830,441 L837.8,437.8" fill="none" stroke="#000" stroke-width="1.5" />
<path d="M829.5,431.5 L830,441" fill="none" stroke="#000" stroke-width="1.5" />
<path d="M830,448.5 L830,459" fill="none" stroke="#000" stroke-width="1.5" />
<path d="M837.8,437.8 L838.2,435 L850,428.5" fill="none" stroke="#000" stroke-width="1.5" />
<path d="M841.5,446 L841.8,453" fill="none" stroke="#000" stroke-width="1.5" />
<ellipse cx="851.5" cy="440" rx="3.6" ry="5.6" transform="rotate(35 851.5 440)" fill="none" stroke="#000" stroke-width="1.5"/>
<path d="M815,445.2 C815.8,445.1 818.3,443.9 820,444.5 C821.7,445.1 823.9,447.2 825,449 C826.1,450.8 826.8,453.1 826.6,455 C826.4,456.9 824.4,459.3 824,460.2" fill="none" stroke="#000" stroke-width="1.5" />
<path d="M818,447.2 C818.7,447.8 821.1,449.2 822,451 C822.9,452.8 823.3,456.5 823.2,458 C823.1,459.5 821.8,459.8 821.5,460.2" fill="none" stroke="#000" stroke-width="1.5" />
<path d="M868.2,283.8 C868.7,282.9 869.1,279.8 871,278.2 C872.9,276.6 877.1,274.5 879.4,274 C881.7,273.5 884.1,275.2 885,275.4 L953.6,316L953.6,316 C954.8,316.9 958.9,319.3 960.6,321.6 C962.4,323.9 963.5,328.6 964.1,330 L964.8,380.4L964.8,380.4 C964.3,381.2 963.8,384 962,385.3 C960.2,386.6 956.6,388 954.3,388.1 C952,388.2 949,386.4 948,386 L873.8,342.6L873.8,342.6 C873,341.7 869.9,339.1 868.9,337 C867.9,334.9 868.1,331.2 867.9,330Z" fill="none" stroke="#000" stroke-width="2.5" />
<path d="M876.6,276.8 L890.6,285.9" fill="none" stroke="#000" stroke-width="1.5" />
<path d="M931.2,309 C934.7,310.6 947.8,315.8 952.2,318.8 C956.6,321.8 956.6,322.9 957.8,327.2 C959,331.5 959,341.8 959.2,344.7" fill="none" stroke="#000" stroke-width="1.5" />
<ellipse cx="879.1" cy="292.5" rx="4.2" ry="6.3" transform="rotate(-15 879.1 292.5)" fill="none" stroke="#000" stroke-width="1.6"/>
<ellipse cx="879.1" cy="334.2" rx="4.2" ry="6.3" transform="rotate(-15 879.1 334.2)" fill="none" stroke="#000" stroke-width="1.6"/>
<ellipse cx="948" cy="332.1" rx="4.2" ry="6.3" transform="rotate(-15 948 332.1)" fill="none" stroke="#000" stroke-width="1.6"/>
<ellipse cx="947.6" cy="373.4" rx="4.2" ry="6.3" transform="rotate(-15 947.6 373.4)" fill="none" stroke="#000" stroke-width="1.6"/>
<ellipse cx="910.9" cy="330" rx="16.5" ry="27" transform="rotate(-17 910.9 330)" fill="none" stroke="#000" stroke-width="1.6"/>
<ellipse cx="913.6" cy="329.3" rx="14.5" ry="25" transform="rotate(-17 913.6 329.3)" fill="none" stroke="#000" stroke-width="1.5"/>
<path d="M902,414 C902,413.7 902.1,412.8 901.8,412 C901.5,411.2 901.1,410.2 900,409.5 C898.9,408.8 895.9,409.1 895,407.5 C894.1,405.9 894.2,402.1 894.5,400 C894.8,397.9 895.8,396.2 897,395 C898.2,393.8 900.3,393.1 902,393 C903.7,392.9 905.3,393.6 907,394.5 C908.7,395.4 910.7,397.4 912,398.5 C913.3,399.6 914.5,400.8 915,401.2" fill="none" stroke="#000" stroke-width="2.5" />
<path d="M915,401.2 L923,401" fill="none" stroke="#000" stroke-width="2.5" />
<path d="M923,401 C923.5,400.3 924.7,397.9 926,397 C927.3,396.1 929.2,395.4 931,395.5 C932.8,395.6 935.5,396.3 937,397.5 C938.5,398.7 939.8,400.7 940,402.5 C940.2,404.3 939.5,406.8 938.5,408.5 C937.5,410.2 935.6,412 934,413 C932.4,414 931.7,414.2 929,414.5 C926.3,414.8 919.8,414.6 918,414.6" fill="none" stroke="#000" stroke-width="2.5" />
<path d="M918,414.6 L902,414.2" fill="none" stroke="#000" stroke-width="2.5" />
<path d="M902,414.5 L884,435" fill="none" stroke="#000" stroke-width="1.6" />
<path d="M918,414.6 C916.3,414.9 911,415.3 908,416.2 C905,417.1 904,417.1 900,420.2 C896,423.3 886.7,432.5 884,435" fill="none" stroke="#000" stroke-width="1.6" />
<path d="M495.6,298.2 C494.7,298.7 492.1,300.7 490.2,301 C488.3,301.3 486,300.7 484.2,299.8 C482.4,298.9 480.4,297.3 479.4,295.6 C478.4,293.9 478,292.2 478.2,289.6 C478.4,287 479.2,283.1 480.6,280 C482,276.9 484.2,273.4 486.6,271 C489,268.6 492.6,266.6 495,265.6 C497.4,264.6 499.1,264.7 501,265 C502.9,265.3 505,266.2 506.4,267.4 C507.8,268.6 508.8,270.2 509.4,272.2 C510,274.2 510.1,278.2 510.2,279.4" fill="none" stroke="#000" stroke-width="2.4" />
<path d="M483,294.6 C483.3,293 483.6,287.9 484.8,284.8 C486,281.7 488.1,278.3 490.2,275.8 C492.3,273.3 495.2,271.1 497.4,269.8 C499.6,268.5 502.6,268.3 503.6,268" fill="none" stroke="#000" stroke-width="1.4" />
<path d="M490.9,297.5 C490.8,296.1 489.5,291.8 490,289 C490.4,286.2 492.2,283 493.8,281 C495.4,278.9 497.8,277.3 499.8,276.6 C501.8,276 504.1,276.4 505.8,277 C507.5,277.6 509.5,279.5 510.2,280" fill="none" stroke="#000" stroke-width="1.7" />
<path d="M510.2,279.5 L534,296.8" fill="none" stroke="#000" stroke-width="2.4" />
<path d="M495.6,298.2 L522.6,314.8" fill="none" stroke="#000" stroke-width="2.4" />
<ellipse cx="528.8" cy="306.4" rx="6.2" ry="9.6" transform="rotate(32 528.8 306.4)" fill="none" stroke="#000" stroke-width="2.4"/>
<ellipse cx="528.8" cy="307.1" rx="4.6" ry="7.2" transform="rotate(32 528.8 307.1)" fill="none" stroke="#000" stroke-width="1.4"/>
<ellipse cx="529.3" cy="307.7" rx="3.4" ry="5.6" transform="rotate(32 529.3 307.7)" fill="none" stroke="#000" stroke-width="1.4"/>
</svg></body></html>
